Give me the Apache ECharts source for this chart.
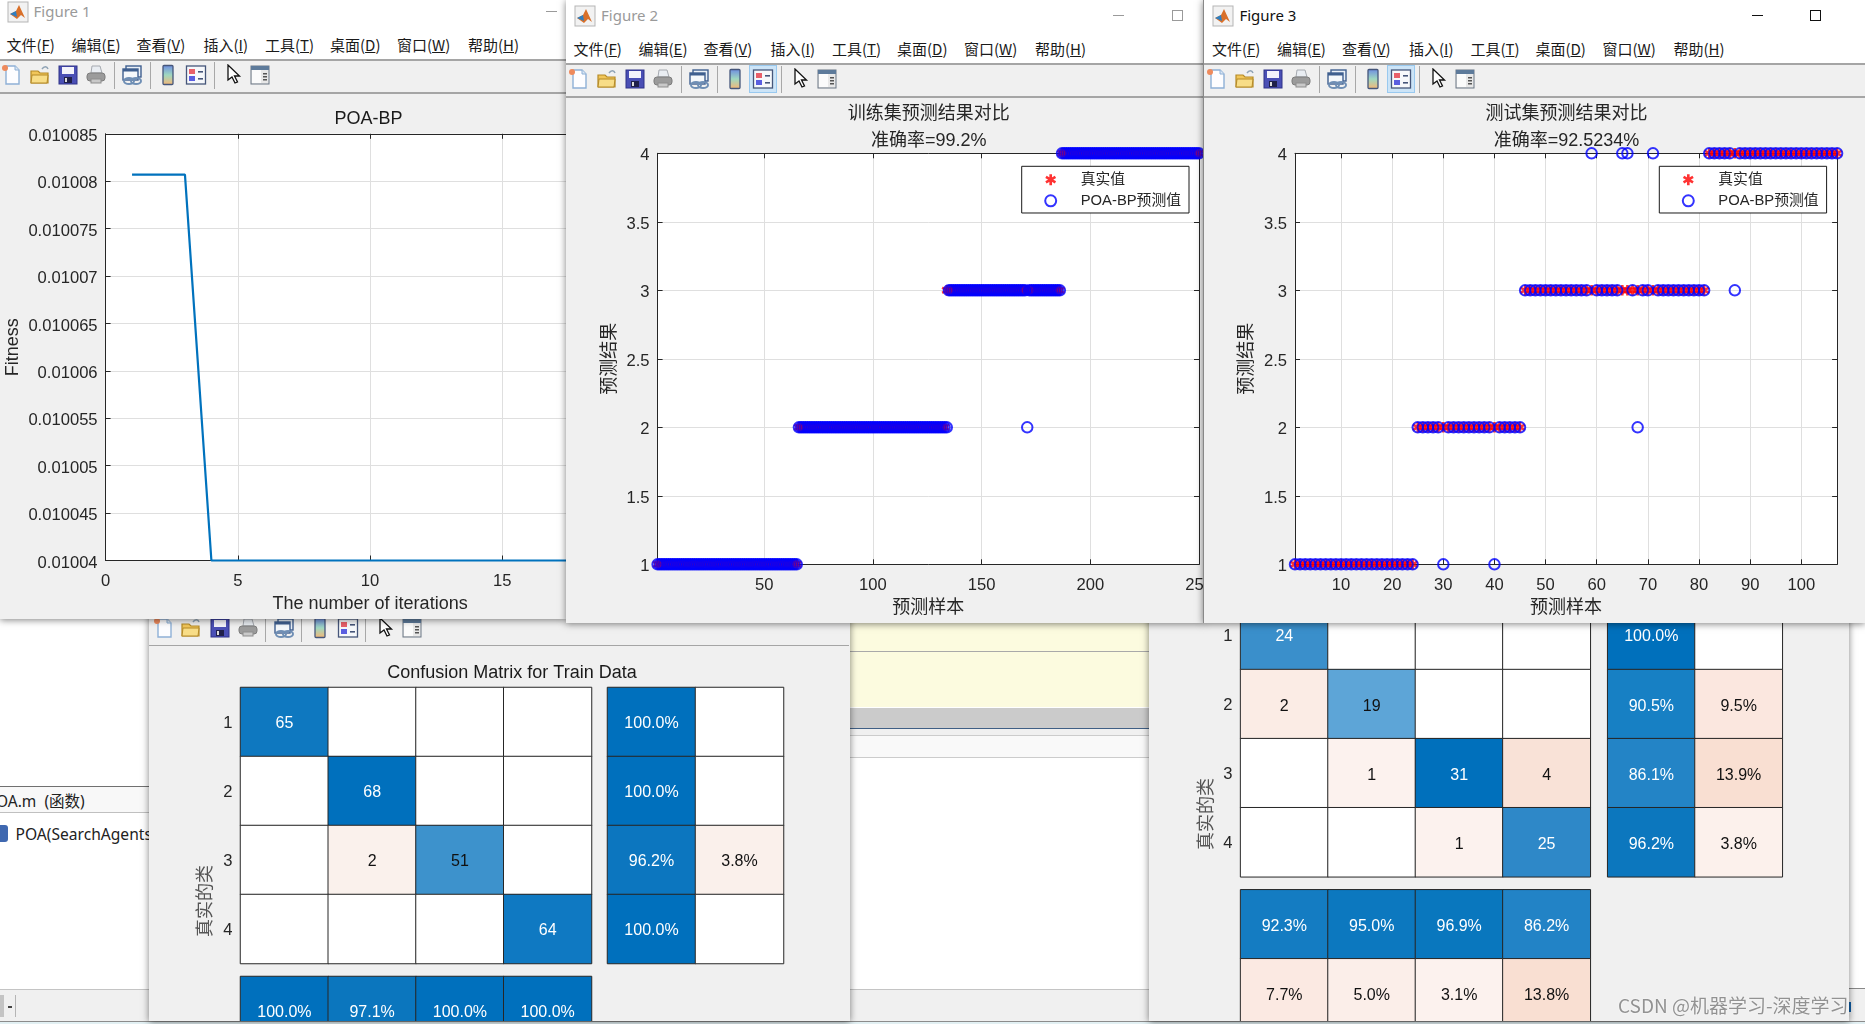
<!DOCTYPE html>
<html>
<head>
<meta charset="utf-8">
<title>MATLAB figures</title>
<script src="https://cdn.jsdelivr.net/npm/echarts@6/dist/echarts.min.js"></script>
<style>
  html, body { margin: 0; width: 1865px; height: 1024px; overflow: hidden; background: #e2f0f3; }
  body, div { font-family: "Noto Sans CJK SC", "Noto Sans", sans-serif; }
  .abs { position: absolute; }
  .win { position: absolute; background: #f0f0f0; overflow: hidden; box-shadow: 0 1px 7px rgba(0,0,0,.5); }
  .white { background: #fff; }
  .menu { position: absolute; font-size: 15px; line-height: 18px; color: #1a1a1a; white-space: nowrap; }
  .cap { position: absolute; font-family: "Noto Sans", sans-serif; font-size: 15px; line-height: 18px; }
  .chart { position: absolute; left: 0; top: 0; }
  .hl { position: absolute; background: #cce4f7; border: 1px solid #99c9ef; box-sizing: border-box; }
</style>
</head>
<body>
<div id="page"></div>
<script>
// values
var iterX = [1, 2, 3, 4, 5, 6, 7, 8, 9, 10, 11, 12, 13, 14, 15, 16, 17, 18, 19, 20];
var fitness = [0.0100807, 0.0100807, 0.0100807, 0.01004, 0.01004, 0.01004, 0.01004, 0.01004, 0.01004, 0.01004,
  0.01004, 0.01004, 0.01004, 0.01004, 0.01004, 0.01004, 0.01004, 0.01004, 0.01004, 0.01004];
var fitnessTicks = [0.01004, 0.010045, 0.01005, 0.010055, 0.01006, 0.010065, 0.01007, 0.010075, 0.01008, 0.010085];
var iterTicks = [0, 5, 10, 15, 20];

var trainTrue = [
  1,1,1,1,1,1,1,1,1,1,1,1,1,1,1,1,1,1,1,1,1,1,1,1,1,
  1,1,1,1,1,1,1,1,1,1,1,1,1,1,1,1,1,1,1,1,1,1,1,1,1,
  1,1,1,1,1,1,1,1,1,1,1,1,1,1,1,2,2,2,2,2,2,2,2,2,2,
  2,2,2,2,2,2,2,2,2,2,2,2,2,2,2,2,2,2,2,2,2,2,2,2,2,
  2,2,2,2,2,2,2,2,2,2,2,2,2,2,2,2,2,2,2,2,2,2,2,2,2,
  2,2,2,2,2,2,2,2,3,3,3,3,3,3,3,3,3,3,3,3,3,3,3,3,3,
  3,3,3,3,3,3,3,3,3,3,3,3,3,3,3,3,3,3,3,3,3,3,3,3,3,
  3,3,3,3,3,3,3,3,3,3,3,4,4,4,4,4,4,4,4,4,4,4,4,4,4,
  4,4,4,4,4,4,4,4,4,4,4,4,4,4,4,4,4,4,4,4,4,4,4,4,4,
  4,4,4,4,4,4,4,4,4,4,4,4,4,4,4,4,4,4,4,4,4,4,4,4,4];
var trainPred = [
  1,1,1,1,1,1,1,1,1,1,1,1,1,1,1,1,1,1,1,1,1,1,1,1,1,
  1,1,1,1,1,1,1,1,1,1,1,1,1,1,1,1,1,1,1,1,1,1,1,1,1,
  1,1,1,1,1,1,1,1,1,1,1,1,1,1,1,2,2,2,2,2,2,2,2,2,2,
  2,2,2,2,2,2,2,2,2,2,2,2,2,2,2,2,2,2,2,2,2,2,2,2,2,
  2,2,2,2,2,2,2,2,2,2,2,2,2,2,2,2,2,2,2,2,2,2,2,2,2,
  2,2,2,2,2,2,2,2,2,3,3,3,3,3,3,3,3,3,3,3,3,3,3,3,3,
  3,3,3,3,3,3,3,3,3,3,3,3,3,3,3,3,3,3,3,3,2,3,3,3,3,
  3,3,3,3,3,3,3,3,3,3,3,4,4,4,4,4,4,4,4,4,4,4,4,4,4,
  4,4,4,4,4,4,4,4,4,4,4,4,4,4,4,4,4,4,4,4,4,4,4,4,4,
  4,4,4,4,4,4,4,4,4,4,4,4,4,4,4,4,4,4,4,4,4,4,4,4,4];
var testTrue = [
  1,1,1,1,1,1,1,1,1,1,1,1,1,1,1,1,1,1,1,1,1,1,1,1,2,
  2,2,2,2,2,2,2,2,2,2,2,2,2,2,2,2,2,2,2,2,3,3,3,3,3,
  3,3,3,3,3,3,3,3,3,3,3,3,3,3,3,3,3,3,3,3,3,3,3,3,3,
  3,3,3,3,3,3,4,4,4,4,4,4,4,4,4,4,4,4,4,4,4,4,4,4,4,
  4,4,4,4,4,4,4];
var testPred = [
  1,1,1,1,1,1,1,1,1,1,1,1,1,1,1,1,1,1,1,1,1,1,1,1,2,
  2,2,2,2,1,2,2,2,2,2,2,2,2,2,1,2,2,2,2,2,3,3,3,3,3,
  3,3,3,3,3,3,3,3,4,3,3,3,3,3,4,4,3,2,3,3,4,3,3,3,3,
  3,3,3,3,3,3,4,4,4,4,4,3,4,4,4,4,4,4,4,4,4,4,4,4,4,
  4,4,4,4,4,4,4];
var trainXTicks = [50, 100, 150, 200, 250];
var testXTicks = [10, 20, 30, 40, 50, 60, 70, 80, 90, 100];
var classYTicks = [1, 1.5, 2, 2.5, 3, 3.5, 4];

var classNames = ["1", "2", "3", "4"];
var trainMatrix = [[65, 0, 0, 0], [0, 68, 0, 0], [0, 2, 51, 0], [0, 0, 0, 64]];
var trainRowPct = [[100.0, 0], [100.0, 0], [96.2, 3.8], [100.0, 0]];
var trainColPct = [[100.0, 97.1, 100.0, 100.0], [0, 2.9, 0, 0]];
var testMatrix = [[24, 0, 0, 0], [2, 19, 0, 0], [0, 1, 31, 4], [0, 0, 1, 25]];
var testRowPct = [[100.0, 0], [90.5, 9.5], [86.1, 13.9], [96.2, 3.8]];
var testColPct = [[92.3, 95.0, 96.9, 86.2], [7.7, 5.0, 3.1, 13.8]];

// cell colours, same shape as the tables above
var W = "#ffffff";
var trainMatrixColors = [["#0e78c0", W, W, W], [W, "#0070bd", W, W], [W, "#faf1ec", "#3d92cc", W], [W, W, W, "#0f79c2"]];
var trainRowColors = [["#0070bd", W], ["#0070bd", W], ["#0c76bf", "#faf0eb"], ["#0070bd", W]];
var trainColColors = [["#0070bd", "#0b76be", "#0070bd", "#0070bd"], [W, "#faf0eb", W, W]];
var testMatrixColors = [["#3a8fcb", W, W, W], ["#fbece5", "#5da5d7", W, W], [W, "#fcf2ee", "#0070bc", "#f9e2d7"], [W, W, "#fcf2ee", "#2e88c8"]];
var testRowColors = [["#0070bc", W], ["#1780c4", "#fbe7df"], ["#2384c6", "#f9dfd2"], ["#0c77be", "#fcf1ec"]];
var testColColors = [["#147cc2", "#0c78bf", "#0977be", "#2283c6"], ["#fbe9e2", "#fbeee9", "#fcf2ee", "#f9dfd2"]];

var menuItems = [["文件", "F"], ["编辑", "E"], ["查看", "V"], ["插入", "I"], ["工具", "T"], ["桌面", "D"], ["窗口", "W"], ["帮助", "H"]];
var menuX = [7.5, 72.5, 137.5, 204.5, 266, 331, 398, 469];

var TXT = "#262626";
var LATIN = '"Liberation Sans", "Noto Sans CJK SC", sans-serif';
var ASTERISK = "path://M-1.25,-5.2H1.25V5.2H-1.25Z M3.875,3.68L-5.125,-1.52L-3.875,-3.68L5.125,1.52Z M-3.875,3.68L-5.125,1.52L3.875,-3.68L5.125,-1.52Z";

var page = document.getElementById("page");

function addBox(parent, cls, left, top, width, height, css) {
  var d = document.createElement("div");
  d.className = cls;
  d.style.cssText = "left:" + left + "px;top:" + top + "px;width:" + width + "px;height:" + height + "px;" + (css || "");
  parent.appendChild(d);
  return d;
}

// toolbar glyphs, 22x22
var ICONS = {
  newf: '<path d="M5 2h9l4 4v14H5z" fill="#fdfdff" stroke="#8eb0d6" stroke-width="1.4"/><path d="M14 2v4h4" fill="#dbe7f4" stroke="#8eb0d6"/><circle cx="4" cy="4" r="3" fill="#ee8a5c"/>',
  open: '<path d="M2 7h7l2 2h8v10H2z" fill="#f1c65a" stroke="#b58a26" stroke-width="1.2"/><path d="M3 11h16l-1 8H2z" fill="#f8dd87" stroke="#b58a26"/><path d="M13 5c2-3 5-3 6 0" fill="none" stroke="#8fa3b5" stroke-width="1.5"/>',
  save: '<rect x="2" y="2" width="18" height="18" fill="#4a4fb5" stroke="#2f3388"/><rect x="5" y="3" width="12" height="7" fill="#f3f3fb"/><rect x="7" y="13" width="8" height="6" fill="#20204a"/><rect x="8" y="14" width="2" height="4" fill="#ddd"/>',
  print: '<path d="M7 2h8l2 7H6z" fill="#e9edf2" stroke="#a6aab0"/><rect x="2" y="9" width="18" height="8" rx="3" fill="#9b9b9b" stroke="#7d7d7d"/><rect x="6" y="15" width="10" height="4" fill="#c9c9c9" stroke="#8d8d8d"/>',
  link: '<rect x="5" y="2" width="15" height="11" fill="#eaf0f7" stroke="#3f5f8f" stroke-width="1.4"/><rect x="2" y="5" width="15" height="11" fill="#f5f8fb" stroke="#3f5f8f" stroke-width="1.4"/><rect x="2" y="5" width="15" height="2.5" fill="#3f5f8f"/><ellipse cx="8" cy="17" rx="5" ry="3" fill="none" stroke="#6f8fb5" stroke-width="2"/><ellipse cx="15" cy="17" rx="5" ry="3" fill="none" stroke="#6f8fb5" stroke-width="2"/>',
  cbar: '<defs><linearGradient id="cb" x1="0" y1="0" x2="0" y2="1"><stop offset="0" stop-color="#6f8fe0"/><stop offset=".5" stop-color="#9fd8c0"/><stop offset="1" stop-color="#f3b878"/></linearGradient></defs><rect x="6" y="1.5" width="10" height="19" rx="1" fill="url(#cb)" stroke="#46567a" stroke-width="1.3"/>',
  lgnd: '<rect x="1.5" y="2" width="19" height="18" fill="#f6f8fb" stroke="#46567a" stroke-width="1.3"/><rect x="4" y="5" width="6" height="5" fill="#e8606a"/><rect x="4" y="12" width="6" height="5" fill="#5a5ee0"/><rect x="13" y="7" width="5" height="1.6" fill="#46567a"/><rect x="13" y="14" width="5" height="1.6" fill="#46567a"/>',
  cursor: '<path d="M5 1v15l4-3 3 6 2.5-1-3-6h5z" fill="#fff" stroke="#111" stroke-width="1.3"/>',
  panel: '<rect x="2" y="2" width="18" height="18" fill="#e8e8e8" stroke="#6a7684"/><rect x="2" y="2" width="18" height="4" fill="#5d7a9a"/><rect x="3" y="6" width="9" height="13" fill="#fbfbfb"/><rect x="14" y="9" width="4" height="1.5" fill="#555"/><rect x="14" y="12" width="4" height="1.5" fill="#555"/><rect x="14" y="15" width="4" height="1.5" fill="#555"/>'
};
var toolIcons = [["newf", 13], ["open", 40.5], ["save", 69], ["print", 97], ["link", 133], ["cbar", 169], ["lgnd", 197], ["cursor", 235], ["panel", 261]];
var toolSeps = [114.6, 150.7, 214.7];
var LOGO = '<svg width="22" height="22" viewBox="0 0 22 22"><rect x="1" y="1" width="20" height="20" fill="#f2f2f2" stroke="#b5b5b5"/><path d="M3 13l6-3 3-6 6 13-4-3-4 4z" fill="#d9702a"/><path d="M3 13l6-3 1 6z" fill="#2f7fc0"/></svg>';

function addToolbar(win, dx, y, highlight) {
  if (highlight) addBox(win, "hl", 197 + dx - 14, y - 14, 28, 28);
  toolIcons.forEach(function (t) {
    var d = addBox(win, "abs", t[1] + dx - 11, y - 11, 22, 22);
    d.innerHTML = '<svg width="22" height="22" viewBox="0 0 22 22">' + ICONS[t[0]] + "</svg>";
  });
  toolSeps.forEach(function (x) {
    addBox(win, "abs", x + dx, y - 13, 1, 27, "background:#a8a8a8;");
  });
}

// title bar, menu and toolbar of a figure window
function addChrome(win, o) {
  addBox(win, "abs white", 0, 0, o.width, o.menuLine, "");
  addBox(win, "abs", 0, o.menuLine, o.width, 1.5, "background:#a5a5a5;");
  addBox(win, "abs", 0, o.toolLine, o.width, 1.5, "background:#a5a5a5;");
  var logo = addBox(win, "abs", o.logoX - 11, o.capY - 11, 22, 22);
  logo.innerHTML = LOGO;
  var cap = addBox(win, "cap", o.logoX + 16, o.capY - 10, 80, 18, "color:" + o.capColor + ";");
  cap.textContent = o.name;
  menuItems.forEach(function (m, i) {
    var d = addBox(win, "menu", menuX[i] + o.dx, o.capY + 24, 60, 18);
    d.innerHTML = m[0] + "(<u>" + m[1] + "</u>)";
  });
  addToolbar(win, o.dx, o.toolY, o.highlight);
  if (o.minX) addBox(win, "abs", o.minX, o.capY - 1, 11, 1, "background:" + o.ctlColor + ";");
  if (o.maxX) addBox(win, "abs", o.maxX, o.capY - 6, 11, 11, "box-sizing:border-box;border:1px solid " + o.ctlColor + ";");
}

// backdrop of the desktop behind the figures
function addBackdrop() {
  var left = addBox(page, "abs white", 0, 600, 149, 421);
  addBox(left, "abs", 0, 186, 149, 1, "background:#707070;");
  addBox(left, "abs", 0, 187, 149, 25, "background:#f8f8f8;");
  addBox(left, "abs", 0, 212, 149, 1, "background:#c0c0c0;");
  var fn = addBox(left, "abs", -4, 191, 150, 20, "font:15.5px 'Noto Sans','Noto Sans CJK SC',sans-serif;line-height:20px;white-space:pre;color:#222;");
  fn.textContent = "OA.m  (函数)";
  addBox(left, "abs", 0, 225, 8, 17, "background:#3f68b0;border-radius:0 3px 3px 0;");
  var item = addBox(left, "abs", 15.5, 224, 134, 20, "font:15.6px 'Noto Sans',sans-serif;line-height:20px;white-space:nowrap;overflow:hidden;color:#222;");
  item.textContent = "POA(SearchAgents_no";
  addBox(left, "abs", 0, 389, 149, 32, "background:#f0f0f0;border-top:1px solid #c4c4c4;box-sizing:border-box;");
  addBox(left, "abs", 0, 395, 4, 22, "background:#c4c4c4;");
  addBox(left, "abs", 8, 406, 4, 2, "background:#444;");
  addBox(left, "abs", 15, 395, 1, 22, "background:#b5b5b5;");

  var mid = addBox(page, "abs white", 849, 600, 300, 421);
  addBox(mid, "abs", 0, 0, 300, 107, "background:#fcfbdf;");
  addBox(mid, "abs", 0, 51, 300, 1, "background:#a9a9a9;");
  addBox(mid, "abs", 0, 107.5, 300, 20, "background:#cbcbcb;");
  addBox(mid, "abs", 0, 128, 300, 1, "background:#3f5f85;");
  addBox(mid, "abs", 0, 129, 300, 6, "background:#f0f0f0;");
  addBox(mid, "abs", 0, 135, 300, 23, "background:#f9f9f9;border-top:1px solid #ccc;border-bottom:1px solid #ccc;box-sizing:border-box;");
  addBox(mid, "abs", 0, 389, 300, 32, "background:#f0f0f0;border-top:1px solid #c4c4c4;box-sizing:border-box;");

  var right = addBox(page, "abs white", 1849, 600, 16, 421);
  addBox(right, "abs", 0, 388, 16, 33, "background:#f0f0f0;border-top:1px solid #888;box-sizing:border-box;");
  addBox(right, "abs", 0, 402, 2, 10, "background:#0f5fa8;");
  addBox(page, "abs", 0, 1021, 1865, 1, "background:#8c8c8c;");
}

function plotGrid(left, top, width, height) {
  return {
    left: left, top: top, width: width, height: height,
    show: true, backgroundColor: "#ffffff", borderWidth: 0, outerBoundsMode: "none"
  };
}

function plainAxis(pos, min, max, ticks, extra) {
  var a = {
    type: "value", position: pos, min: min, max: max,
    axisLine: { show: true, onZero: false, lineStyle: { color: TXT, width: 1 } },
    axisTick: { show: true, inside: true, length: 5, customValues: ticks, lineStyle: { color: TXT } },
    axisLabel: { show: false, customValues: ticks },
    splitLine: { show: false }
  };
  return Object.assign(a, extra || {});
}

function shownAxis(pos, min, max, ticks, name, gap, margin) {
  var label = {
    show: true, customValues: ticks, color: TXT, fontSize: 16.6, fontFamily: LATIN,
    margin: margin, formatter: function (v) { return String(v); }
  };
  // MATLAB draws the y labels a little below their tick
  if (pos === "left") {
    label.verticalAlign = "top";
    label.lineHeight = 5;
  }
  return plainAxis(pos, min, max, ticks, {
    name: name, nameLocation: "middle", nameGap: gap, nameMoveOverlap: false,
    nameTextStyle: { color: TXT, fontSize: 18, fontFamily: LATIN },
    axisLabel: label,
    splitLine: { show: true, lineStyle: { color: "#dfdfdf", width: 1 } }
  });
}

function pairs(ys) {
  return ys.map(function (y, i) { return [i + 1, y]; });
}

// scatter of true values vs predicted values
function classOption(o) {
  return {
    animation: false,
    title: {
      text: o.title, left: o.titleX, top: 101, padding: 0, textAlign: "center",
      textStyle: { color: TXT, fontSize: 18, fontWeight: "normal", fontFamily: LATIN, lineHeight: 27 }
    },
    grid: plotGrid(o.grid[0], o.grid[1], o.grid[2], o.grid[3]),
    xAxis: [
      shownAxis("bottom", 1, o.xMax, o.xTicks, "预测样本", 35, 12.5),
      plainAxis("top", 1, o.xMax, o.xTicks)
    ],
    yAxis: [
      shownAxis("left", 1, 4, classYTicks, "预测结果", 38.6, 8),
      plainAxis("right", 1, 4, classYTicks)
    ],
    legend: {
      orient: "vertical", left: o.legendX, top: 166.3, padding: [6, 8, 4.8, 22.5],
      itemWidth: 50, itemHeight: 11, itemGap: 6.3, selectedMode: false,
      backgroundColor: "#fff", borderColor: "#1a1a1a", borderWidth: 1,
      textStyle: { color: TXT, fontSize: 14.8, fontFamily: LATIN, lineHeight: 14, padding: 0 },
      data: [
        { name: "真实值", icon: ASTERISK, itemStyle: { color: "#ff0000", borderWidth: 0 } },
        { name: "POA-BP预测值", icon: "circle", itemStyle: { color: "rgba(0,0,0,0)", borderColor: "#0000ff", borderWidth: 2 } }
      ]
    },
    series: [
      { name: "真实值", type: "scatter", clip: false, silent: true, symbol: ASTERISK, symbolSize: 10.5,
        itemStyle: { color: "#ff0000" }, data: pairs(o.truth), z: 3 },
      { name: "POA-BP预测值", type: "scatter", clip: false, silent: true, symbol: "circle", symbolSize: 10.5,
        itemStyle: { color: "rgba(0,0,0,0)", borderColor: "#0000ff", borderWidth: 2 }, data: pairs(o.pred), z: 4 }
    ]
  };
}

function cellItems(matrix, colors, fmt) {
  var items = [];
  matrix.forEach(function (row, r) {
    row.forEach(function (v, c) {
      var col = colors[r][c];
      var dark = parseInt(col.slice(1, 3), 16) < 0x3c;
      items.push({
        value: [c, r, v],
        itemStyle: { color: col },
        label: { color: dark ? "#ffffff" : "#111111", formatter: v === 0 ? "" : fmt(v) }
      });
    });
  });
  return items;
}

function heatSeries(idx, data) {
  return {
    type: "heatmap", xAxisIndex: idx, yAxisIndex: idx, silent: true, data: data,
    itemStyle: { borderColor: "#262626", borderWidth: 1 },
    label: { show: true, fontSize: 16, fontFamily: LATIN, offset: [0, 2] }
  };
}

function catAxis(n, showLabels) {
  var labels = [];
  for (var i = 0; i < n; i++) labels.push(showLabels ? classNames[i] : String(i));
  return labels;
}

function confusionOption(o) {
  var pct = function (v) { return v.toFixed(1) + "%"; };
  var count = function (v) { return String(v); };
  var gx = function (g) { return { left: g[0], top: g[1], width: g[2], height: g[3], outerBoundsMode: "none" }; };
  var ax = function (n, visible) {
    return {
      type: "category", data: catAxis(n, visible), inverse: false, gridIndex: 0,
      axisLine: { show: false }, axisTick: { show: false }, axisLabel: { show: false }
    };
  };
  var xs = [0, 1, 2].map(function (i) {
    return Object.assign(ax(i === 1 ? 2 : 4, false), { gridIndex: i });
  });
  var ys = [0, 1, 2].map(function (i) {
    var a = Object.assign(ax(i === 2 ? 2 : 4, i === 0), { gridIndex: i, inverse: true });
    if (i === 0) a.axisLabel = { show: true, color: TXT, fontSize: 16.6, fontFamily: LATIN, margin: 8, verticalAlign: "top", lineHeight: 3 };
    return a;
  });
  return {
    animation: false,
    title: o.title ? {
      text: o.title, left: o.titleX, top: o.titleY, padding: 0, textAlign: "center",
      textStyle: { color: "#1a1a1a", fontSize: 18, fontWeight: "normal", fontFamily: LATIN }
    } : undefined,
    grid: [gx(o.main), gx(o.row), gx(o.col)],
    xAxis: xs,
    yAxis: ys,
    graphic: [{
      type: "text", x: o.labelX, y: o.labelY, rotation: Math.PI / 2,
      style: { text: "真实的类", fontSize: 18, fontFamily: LATIN, fill: "#555", align: "center", verticalAlign: "middle" }
    }],
    series: [
      heatSeries(0, cellItems(o.matrix, o.matrixColors, count)),
      heatSeries(1, cellItems(o.rowPct, o.rowColors, pct)),
      heatSeries(2, cellItems(o.colPct, o.colColors, pct))
    ]
  };
}

function addChart(win, width, height, option) {
  var el = addBox(win, "chart", 0, 0, width, height);
  var chart = echarts.init(el, null, { width: width, height: height });
  chart.setOption(option);
  return chart;
}

addBackdrop();

// confusion matrix for train data
var cmTrainWin = addBox(page, "win", 149, 600, 700.5, 421, "z-index:3;");
addBox(cmTrainWin, "abs", 0, 45, 700, 1, "background:#a5a5a5;");
addToolbar(cmTrainWin, 1.5, 28, false);
addChart(cmTrainWin, 700, 560, confusionOption({
  title: "Confusion Matrix for Train Data", titleX: 363, titleY: 64,
  main: [91.5, 87.5, 351, 276], row: [458.5, 87.5, 176, 276], col: [91.5, 376.5, 351, 138],
  labelX: 57.5, labelY: 301,
  matrix: trainMatrix, matrixColors: trainMatrixColors,
  rowPct: trainRowPct, rowColors: trainRowColors,
  colPct: trainColPct, colColors: trainColColors
}));

// confusion matrix for test data
var cmTestWin = addBox(page, "win", 1148.7, 560, 700.6, 461, "z-index:3;");
addChart(cmTestWin, 700, 600, confusionOption({
  main: [91.6, 40.5, 349.7, 276.3], row: [458.7, 40.5, 174.6, 276.3], col: [91.6, 329.8, 349.7, 138],
  labelX: 58.3, labelY: 254,
  matrix: testMatrix, matrixColors: testMatrixColors,
  rowPct: testRowPct, rowColors: testRowColors,
  colPct: testColPct, colColors: testColColors
}));

// Figure 1
var fig1 = addBox(page, "win", 0, 0, 566, 619, "z-index:5;");
addChrome(fig1, { width: 566, dx: -1, menuLine: 59, toolLine: 92, capY: 12, toolY: 75, name: "Figure 1", capColor: "#9a9a9a", logoX: 17.5, minX: 546, ctlColor: "#9a9a9a" });
addChart(fig1, 900, 619, {
  animation: false,
  title: {
    text: "POA-BP", left: 368.5, top: 110, padding: 0, textAlign: "center",
    textStyle: { color: "#1a1a1a", fontSize: 18, fontWeight: "normal", fontFamily: LATIN }
  },
  grid: plotGrid(105.6, 133.8, 529, 426.7),
  xAxis: [
    shownAxis("bottom", 0, 20, iterTicks, "The number of iterations", 35, 12.5),
    plainAxis("top", 0, 20, iterTicks)
  ],
  yAxis: [
    shownAxis("left", 0.01004, 0.010085, fitnessTicks, "Fitness", 84, 8),
    plainAxis("right", 0.01004, 0.010085, fitnessTicks)
  ],
  series: [{
    type: "line", silent: true, clip: false, showSymbol: false, symbol: "none",
    lineStyle: { color: "#0072bd", width: 2.2 },
    data: iterX.map(function (x, i) { return [x, fitness[i]]; })
  }]
});

// Figure 2
var fig2 = addBox(page, "win", 566, 0, 638, 623, "z-index:6;");
addChrome(fig2, { width: 638, dx: 0, menuLine: 63, toolLine: 96, capY: 15.5, toolY: 79.3, name: "Figure 2", capColor: "#9a9a9a", logoX: 19, minX: 547, maxX: 606, ctlColor: "#9a9a9a", highlight: true });
addChart(fig2, 638, 623, classOption({
  title: "训练集预测结果对比\n准确率=99.2%", titleX: 362.7, grid: [91.6, 153.3, 541.4, 411],
  xMax: 250, xTicks: trainXTicks, legendX: 455.7, truth: trainTrue, pred: trainPred
}));

// Figure 3
var fig3 = addBox(page, "win", 1203.4, 0, 662, 623, "z-index:7;border-left:1px solid #888;box-sizing:border-box;");
addChrome(fig3, { width: 662, dx: 0, menuLine: 63, toolLine: 96, capY: 15.5, toolY: 79.3, name: "Figure 3", capColor: "#111", logoX: 19, minX: 548, maxX: 606, ctlColor: "#111", highlight: true });
addChart(fig3, 662, 623, classOption({
  title: "测试集预测结果对比\n准确率=92.5234%", titleX: 362.5, grid: [91, 153.3, 542.1, 411],
  xMax: 107, xTicks: testXTicks, legendX: 455.3, truth: testTrue, pred: testPred
}));

var mark = addBox(page, "abs", 1618, 992, 231, 26, "z-index:9;overflow:hidden;font-size:19px;line-height:26px;white-space:nowrap;color:rgba(120,120,120,.8);text-shadow:0 0 2px #fff;");
mark.textContent = "CSDN @机器学习-深度学习";
</script>
</body>
</html>
